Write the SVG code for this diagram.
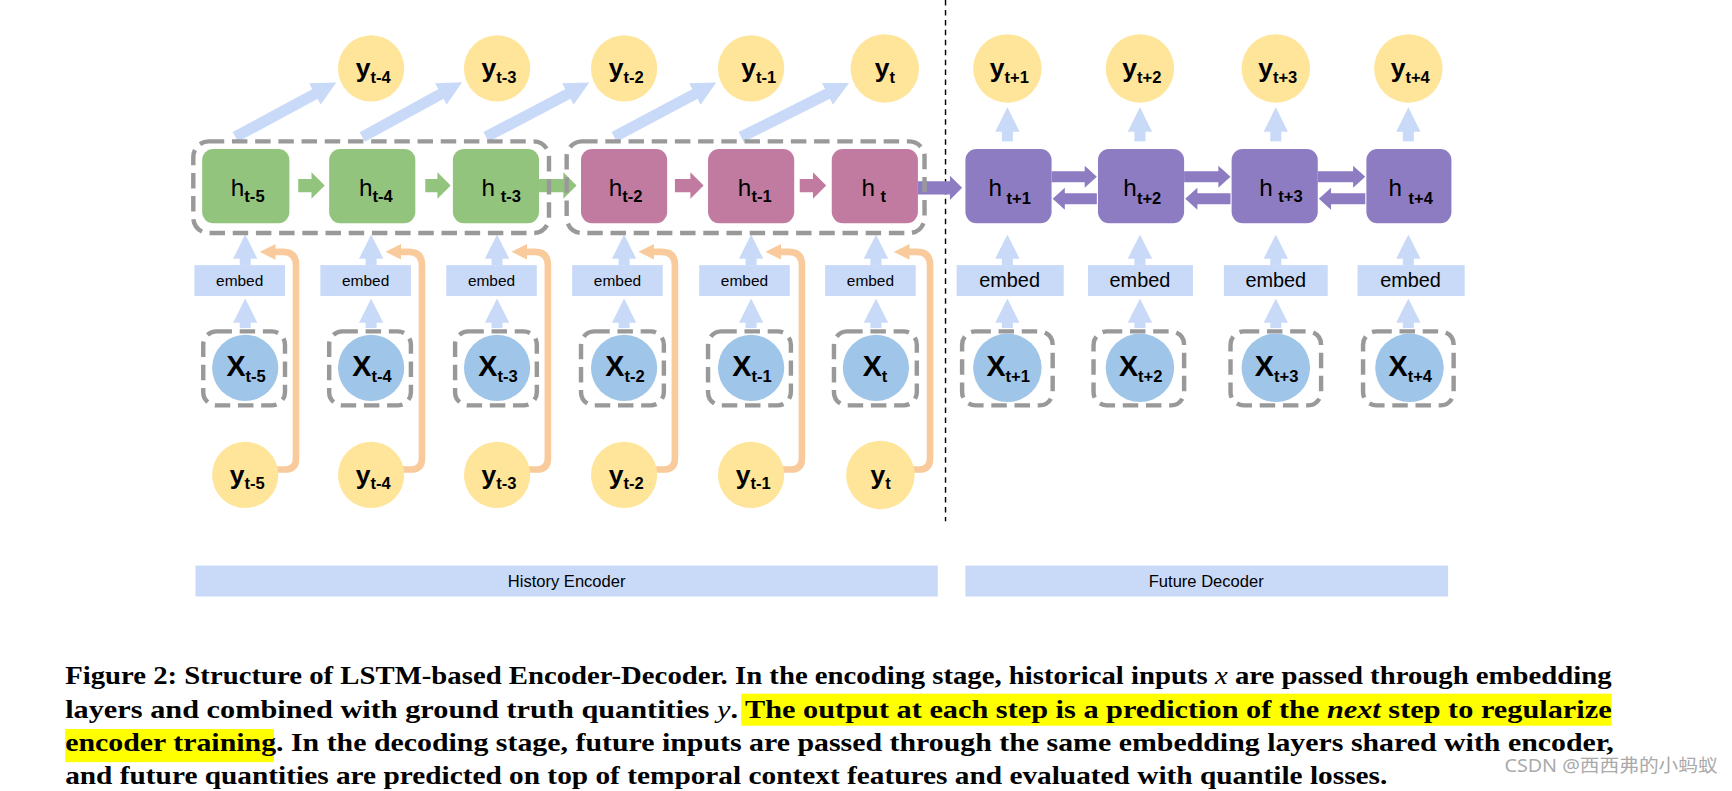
<svg xmlns="http://www.w3.org/2000/svg" width="1732" height="791" viewBox="0 0 1732 791">
<style>
.yc{fill:#ffe599}.xc{fill:#9fc5e8}
.grp{fill:none;stroke:#999;stroke-width:4;stroke-dasharray:14 7}
.emb{fill:#c9daf8}
.lb{stroke:#c9daf8;stroke-width:10;fill:none}
.or{stroke:#f9cb9c;stroke-width:6;fill:none}
.t{font-family:"Liberation Sans",Arial,sans-serif;fill:#000}
.yl{font-size:24px;font-weight:bold}
.hl{font-size:22px}
.xl{font-size:26px;font-weight:bold}
.sub{font-size:15px;font-weight:bold}
.em{font-size:14px}
.em2{font-size:18px}
.cap{font-family:"Liberation Serif","Times New Roman",serif;font-size:22px;font-weight:bold;fill:#000}
</style>
<defs>
<marker id="ab" viewBox="0 0 10 10" refX="1" refY="5" markerWidth="2.2" markerHeight="2.2" markerUnits="strokeWidth" orient="auto"><path d="M0,0L10,5L0,10z" fill="#c9daf8"/></marker>
<marker id="ao" viewBox="0 0 10 10" refX="1" refY="5" markerWidth="2.4" markerHeight="2.8" markerUnits="strokeWidth" orient="auto"><path d="M0,0L10,5L0,10z" fill="#f9cb9c"/></marker>
</defs>
<rect width="1732" height="791" fill="#fff"/>
<g transform="scale(1.10459)">
<line x1="856" y1="0" x2="856" y2="472" stroke="#000" stroke-width="1.3" stroke-dasharray="5 4"/>
<g id="connectors">
<g class="lb" marker-end="url(#ab)">
<line x1="213" y1="124" x2="287" y2="84"/>
<line x1="328" y1="124" x2="401" y2="84"/>
<line x1="440" y1="124" x2="516" y2="84"/>
<line x1="556" y1="124" x2="631" y2="84"/>
<line x1="671" y1="124" x2="751" y2="84"/>
<line x1="912" y1="128" x2="912" y2="117"/>
<line x1="1032" y1="128" x2="1032" y2="117"/>
<line x1="1155" y1="128" x2="1155" y2="117"/>
<line x1="1275" y1="128" x2="1275" y2="117"/>
<line x1="222" y1="240" x2="222" y2="232"/><line x1="222" y1="297" x2="222" y2="290"/>
<line x1="336" y1="240" x2="336" y2="232"/><line x1="336" y1="297" x2="336" y2="290"/>
<line x1="450" y1="240" x2="450" y2="232"/><line x1="450" y1="297" x2="450" y2="290"/>
<line x1="565" y1="240" x2="565" y2="232"/><line x1="565" y1="297" x2="565" y2="290"/>
<line x1="680" y1="240" x2="680" y2="232"/><line x1="680" y1="297" x2="680" y2="290"/>
<line x1="793" y1="240" x2="793" y2="232"/><line x1="793" y1="297" x2="793" y2="290"/>
<line x1="912" y1="240" x2="912" y2="232"/><line x1="912" y1="297" x2="912" y2="290"/>
<line x1="1032" y1="240" x2="1032" y2="232"/><line x1="1032" y1="297" x2="1032" y2="290"/>
<line x1="1155" y1="240" x2="1155" y2="232"/><line x1="1155" y1="297" x2="1155" y2="290"/>
<line x1="1275" y1="240" x2="1275" y2="232"/><line x1="1275" y1="297" x2="1275" y2="290"/>
</g>
<g class="or" marker-end="url(#ao)">
<path d="M250,425H258Q268,425 268,415V240Q268,228 256,228H248"/>
<path d="M364,425H372Q382,425 382,415V240Q382,228 370,228H362"/>
<path d="M478,425H486Q496,425 496,415V240Q496,228 484,228H476"/>
<path d="M593,425H601Q611,425 611,415V240Q611,228 599,228H591"/>
<path d="M708,425H716Q726,425 726,415V240Q726,228 714,228H706"/>
<path d="M825,425H832Q842,425 842,415V240Q842,228 830,228H822"/>
</g>
<g fill="#93c47d">
<polygon points="270,162 282,162 282,156 294,168 282,180 282,174 270,174"/>
<polygon points="385,162 396,162 396,156 408,168 396,180 396,174 385,174"/>
<polygon points="488,162 510,162 510,156 522,168 510,180 510,174 488,174"/>
</g>
<g fill="#c27ba0">
<polygon points="611,162 625,162 625,156 637,168 625,180 625,174 611,174"/>
<polygon points="724,162 736,162 736,156 748,168 736,180 736,174 724,174"/>
</g>
<g fill="#8e7cc3">
<polygon points="831,164 860,164 860,159 871,170 860,181 860,176 831,176"/>
<polygon points="952,155 982,155 982,150 993,160 982,170 982,165 952,165"/>
<polygon points="993,175 964,175 964,170 953,180 964,190 964,185 993,185"/>
<polygon points="1072,155 1103,155 1103,150 1114,160 1103,170 1103,165 1072,165"/>
<polygon points="1114,175 1084,175 1084,170 1073,180 1084,190 1084,185 1114,185"/>
<polygon points="1193,155 1225,155 1225,150 1236,160 1225,170 1225,165 1193,165"/>
<polygon points="1236,175 1205,175 1205,170 1194,180 1205,190 1205,185 1236,185"/>
</g>
</g>
<rect class="grp" x="175" y="128" width="322" height="83" rx="14"/>
<rect class="grp" x="513" y="128" width="324" height="83" rx="14"/>
<g id="h-nodes">
<g id="h5"><rect x="183" y="135" width="79" height="67" rx="10" fill="#93c47d"/><text class="t hl" x="209" y="177">h<tspan class="sub" dy="6">t-5</tspan></text></g>
<g id="h4"><rect x="298" y="135" width="78" height="67" rx="10" fill="#93c47d"/><text class="t hl" x="325" y="177">h<tspan class="sub" dy="6">t-4</tspan></text></g>
<g id="h3"><rect x="410" y="135" width="78" height="67" rx="10" fill="#93c47d"/><text class="t hl" x="436" y="177">h<tspan class="sub" dx="5" dy="6">t-3</tspan></text></g>
<g id="h2"><rect x="526" y="135" width="78" height="67" rx="10" fill="#c27ba0"/><text class="t hl" x="551" y="177">h<tspan class="sub" dy="6">t-2</tspan></text></g>
<g id="h1"><rect x="641" y="135" width="78" height="67" rx="10" fill="#c27ba0"/><text class="t hl" x="668" y="177">h<tspan class="sub" dy="6">t-1</tspan></text></g>
<g id="h0"><rect x="753" y="135" width="78" height="67" rx="10" fill="#c27ba0"/><text class="t hl" x="780" y="177">h<tspan class="sub" dx="5" dy="6">t</tspan></text></g>
<g id="hp1"><rect x="874" y="135" width="78" height="67" rx="10" fill="#8e7cc3"/><text class="t hl" x="895" y="177">h<tspan class="sub" dx="4" dy="8">t+1</tspan></text></g>
<g id="hp2"><rect x="994" y="135" width="78" height="67" rx="10" fill="#8e7cc3"/><text class="t hl" x="1017" y="177">h<tspan class="sub" dy="8">t+2</tspan></text></g>
<g id="hp3"><rect x="1115" y="135" width="78" height="67" rx="10" fill="#8e7cc3"/><text class="t hl" x="1140" y="177">h<tspan class="sub" dx="5" dy="6">t+3</tspan></text></g>
<g id="hp4"><rect x="1237" y="135" width="77" height="67" rx="10" fill="#8e7cc3"/><text class="t hl" x="1257" y="177">h<tspan class="sub" dx="6" dy="8">t+4</tspan></text></g>
</g>
<g id="y-out">
<g><circle class="yc" cx="336" cy="62" r="30"/><text class="t yl" x="322" y="70">y<tspan class="sub" dy="5">t-4</tspan></text></g>
<g><circle class="yc" cx="450" cy="62" r="30"/><text class="t yl" x="436" y="70">y<tspan class="sub" dy="5">t-3</tspan></text></g>
<g><circle class="yc" cx="565" cy="62" r="30"/><text class="t yl" x="551" y="70">y<tspan class="sub" dy="5">t-2</tspan></text></g>
<g><circle class="yc" cx="680" cy="62" r="30"/><text class="t yl" x="671" y="70">y<tspan class="sub" dy="5">t-1</tspan></text></g>
<g><circle class="yc" cx="801" cy="62" r="31"/><text class="t yl" x="792" y="70">y<tspan class="sub" dy="5">t</tspan></text></g>
<g><circle class="yc" cx="912" cy="62" r="31"/><text class="t yl" x="896" y="70">y<tspan class="sub" dy="5">t+1</tspan></text></g>
<g><circle class="yc" cx="1032" cy="62" r="31"/><text class="t yl" x="1016" y="70">y<tspan class="sub" dy="5">t+2</tspan></text></g>
<g><circle class="yc" cx="1155" cy="62" r="31"/><text class="t yl" x="1139" y="70">y<tspan class="sub" dy="5">t+3</tspan></text></g>
<g><circle class="yc" cx="1275" cy="62" r="31"/><text class="t yl" x="1259" y="70">y<tspan class="sub" dy="5">t+4</tspan></text></g>
</g>
<g id="embeds">
<g><rect class="emb" x="176" y="240" width="82" height="28"/><text class="t em" x="217" y="259" text-anchor="middle">embed</text></g>
<g><rect class="emb" x="290" y="240" width="82" height="28"/><text class="t em" x="331" y="259" text-anchor="middle">embed</text></g>
<g><rect class="emb" x="404" y="240" width="82" height="28"/><text class="t em" x="445" y="259" text-anchor="middle">embed</text></g>
<g><rect class="emb" x="518" y="240" width="82" height="28"/><text class="t em" x="559" y="259" text-anchor="middle">embed</text></g>
<g><rect class="emb" x="633" y="240" width="82" height="28"/><text class="t em" x="674" y="259" text-anchor="middle">embed</text></g>
<g><rect class="emb" x="747" y="240" width="82" height="28"/><text class="t em" x="788" y="259" text-anchor="middle">embed</text></g>
<g><rect class="emb" x="866" y="240" width="97" height="28"/><text class="t em2" x="914" y="260" text-anchor="middle">embed</text></g>
<g><rect class="emb" x="985" y="240" width="95" height="28"/><text class="t em2" x="1032" y="260" text-anchor="middle">embed</text></g>
<g><rect class="emb" x="1108" y="240" width="94" height="28"/><text class="t em2" x="1155" y="260" text-anchor="middle">embed</text></g>
<g><rect class="emb" x="1229" y="240" width="97" height="28"/><text class="t em2" x="1277" y="260" text-anchor="middle">embed</text></g>
</g>
<g id="x-in">
<g><rect class="grp" x="184" y="300" width="74" height="67" rx="12"/><circle class="xc" cx="222" cy="333" r="30"/><text class="t xl" x="205" y="340">X<tspan class="sub" dy="6">t-5</tspan></text></g>
<g><rect class="grp" x="298" y="300" width="74" height="67" rx="12"/><circle class="xc" cx="336" cy="333" r="30"/><text class="t xl" x="319" y="340">X<tspan class="sub" dy="6">t-4</tspan></text></g>
<g><rect class="grp" x="412" y="300" width="74" height="67" rx="12"/><circle class="xc" cx="450" cy="333" r="30"/><text class="t xl" x="433" y="340">X<tspan class="sub" dy="6">t-3</tspan></text></g>
<g><rect class="grp" x="526" y="300" width="75" height="67" rx="12"/><circle class="xc" cx="565" cy="333" r="30"/><text class="t xl" x="548" y="340">X<tspan class="sub" dy="6">t-2</tspan></text></g>
<g><rect class="grp" x="641" y="300" width="75" height="67" rx="12"/><circle class="xc" cx="680" cy="333" r="30"/><text class="t xl" x="663" y="340">X<tspan class="sub" dy="6">t-1</tspan></text></g>
<g><rect class="grp" x="755" y="300" width="75" height="67" rx="12"/><circle class="xc" cx="793" cy="333" r="30"/><text class="t xl" x="781" y="340">X<tspan class="sub" dy="6">t</tspan></text></g>
<g><rect class="grp" x="871" y="300" width="82" height="67" rx="12"/><circle class="xc" cx="912" cy="333" r="31"/><text class="t xl" x="893" y="340">X<tspan class="sub" dy="6">t+1</tspan></text></g>
<g><rect class="grp" x="990" y="300" width="82" height="67" rx="12"/><circle class="xc" cx="1032" cy="333" r="31"/><text class="t xl" x="1013" y="340">X<tspan class="sub" dy="6">t+2</tspan></text></g>
<g><rect class="grp" x="1114" y="300" width="82" height="67" rx="12"/><circle class="xc" cx="1155" cy="333" r="31"/><text class="t xl" x="1136" y="340">X<tspan class="sub" dy="6">t+3</tspan></text></g>
<g><rect class="grp" x="1234" y="300" width="82" height="67" rx="12"/><circle class="xc" cx="1276" cy="333" r="31"/><text class="t xl" x="1257" y="340">X<tspan class="sub" dy="6">t+4</tspan></text></g>
</g>
<g id="y-in">
<g><circle class="yc" cx="222" cy="430" r="30"/><text class="t yl" x="208" y="438">y<tspan class="sub" dy="5">t-5</tspan></text></g>
<g><circle class="yc" cx="336" cy="430" r="30"/><text class="t yl" x="322" y="438">y<tspan class="sub" dy="5">t-4</tspan></text></g>
<g><circle class="yc" cx="450" cy="430" r="30"/><text class="t yl" x="436" y="438">y<tspan class="sub" dy="5">t-3</tspan></text></g>
<g><circle class="yc" cx="565" cy="430" r="30"/><text class="t yl" x="551" y="438">y<tspan class="sub" dy="5">t-2</tspan></text></g>
<g><circle class="yc" cx="680" cy="430" r="30"/><text class="t yl" x="666" y="438">y<tspan class="sub" dy="5">t-1</tspan></text></g>
<g><circle class="yc" cx="797" cy="430" r="31"/><text class="t yl" x="788" y="438">y<tspan class="sub" dy="5">t</tspan></text></g>
</g>
<g id="bars">
<rect class="emb" x="177" y="512" width="672" height="28"/><text class="t" font-size="15" x="513" y="531" text-anchor="middle">History Encoder</text>
<rect class="emb" x="874" y="512" width="437" height="28"/><text class="t" font-size="15" x="1092" y="531" text-anchor="middle">Future Decoder</text>
</g>
<g id="caption">
<rect x="671" y="628" width="788" height="29" fill="#ffff00"/>
<rect x="59" y="660" width="189" height="30" fill="#ffff00"/>
<text class="cap" x="59" y="619" textLength="1400" lengthAdjust="spacingAndGlyphs">Figure 2: Structure of LSTM-based Encoder-Decoder. In the encoding stage, historical inputs <tspan font-style="italic" font-weight="normal">x</tspan> are passed through embedding</text>
<text class="cap" x="59" y="650" textLength="1400" lengthAdjust="spacingAndGlyphs">layers and combined with ground truth quantities <tspan font-style="italic" font-weight="normal">y</tspan>. The output at each step is a prediction of the <tspan font-style="italic">next</tspan> step to regularize</text>
<text class="cap" x="59" y="680" textLength="1402" lengthAdjust="spacingAndGlyphs">encoder training. In the decoding stage, future inputs are passed through the same embedding layers shared with encoder,</text>
<text class="cap" x="59" y="710" textLength="1197" lengthAdjust="spacingAndGlyphs">and future quantities are predicted on top of temporal context features and evaluated with quantile losses.</text>
<text x="1362" y="699" font-family="'Noto Sans','Noto Sans CJK SC',sans-serif" font-size="16" fill="#aaa" textLength="193" lengthAdjust="spacingAndGlyphs">CSDN @西西弗的小蚂蚁</text>
</g>
</g>
</svg>
